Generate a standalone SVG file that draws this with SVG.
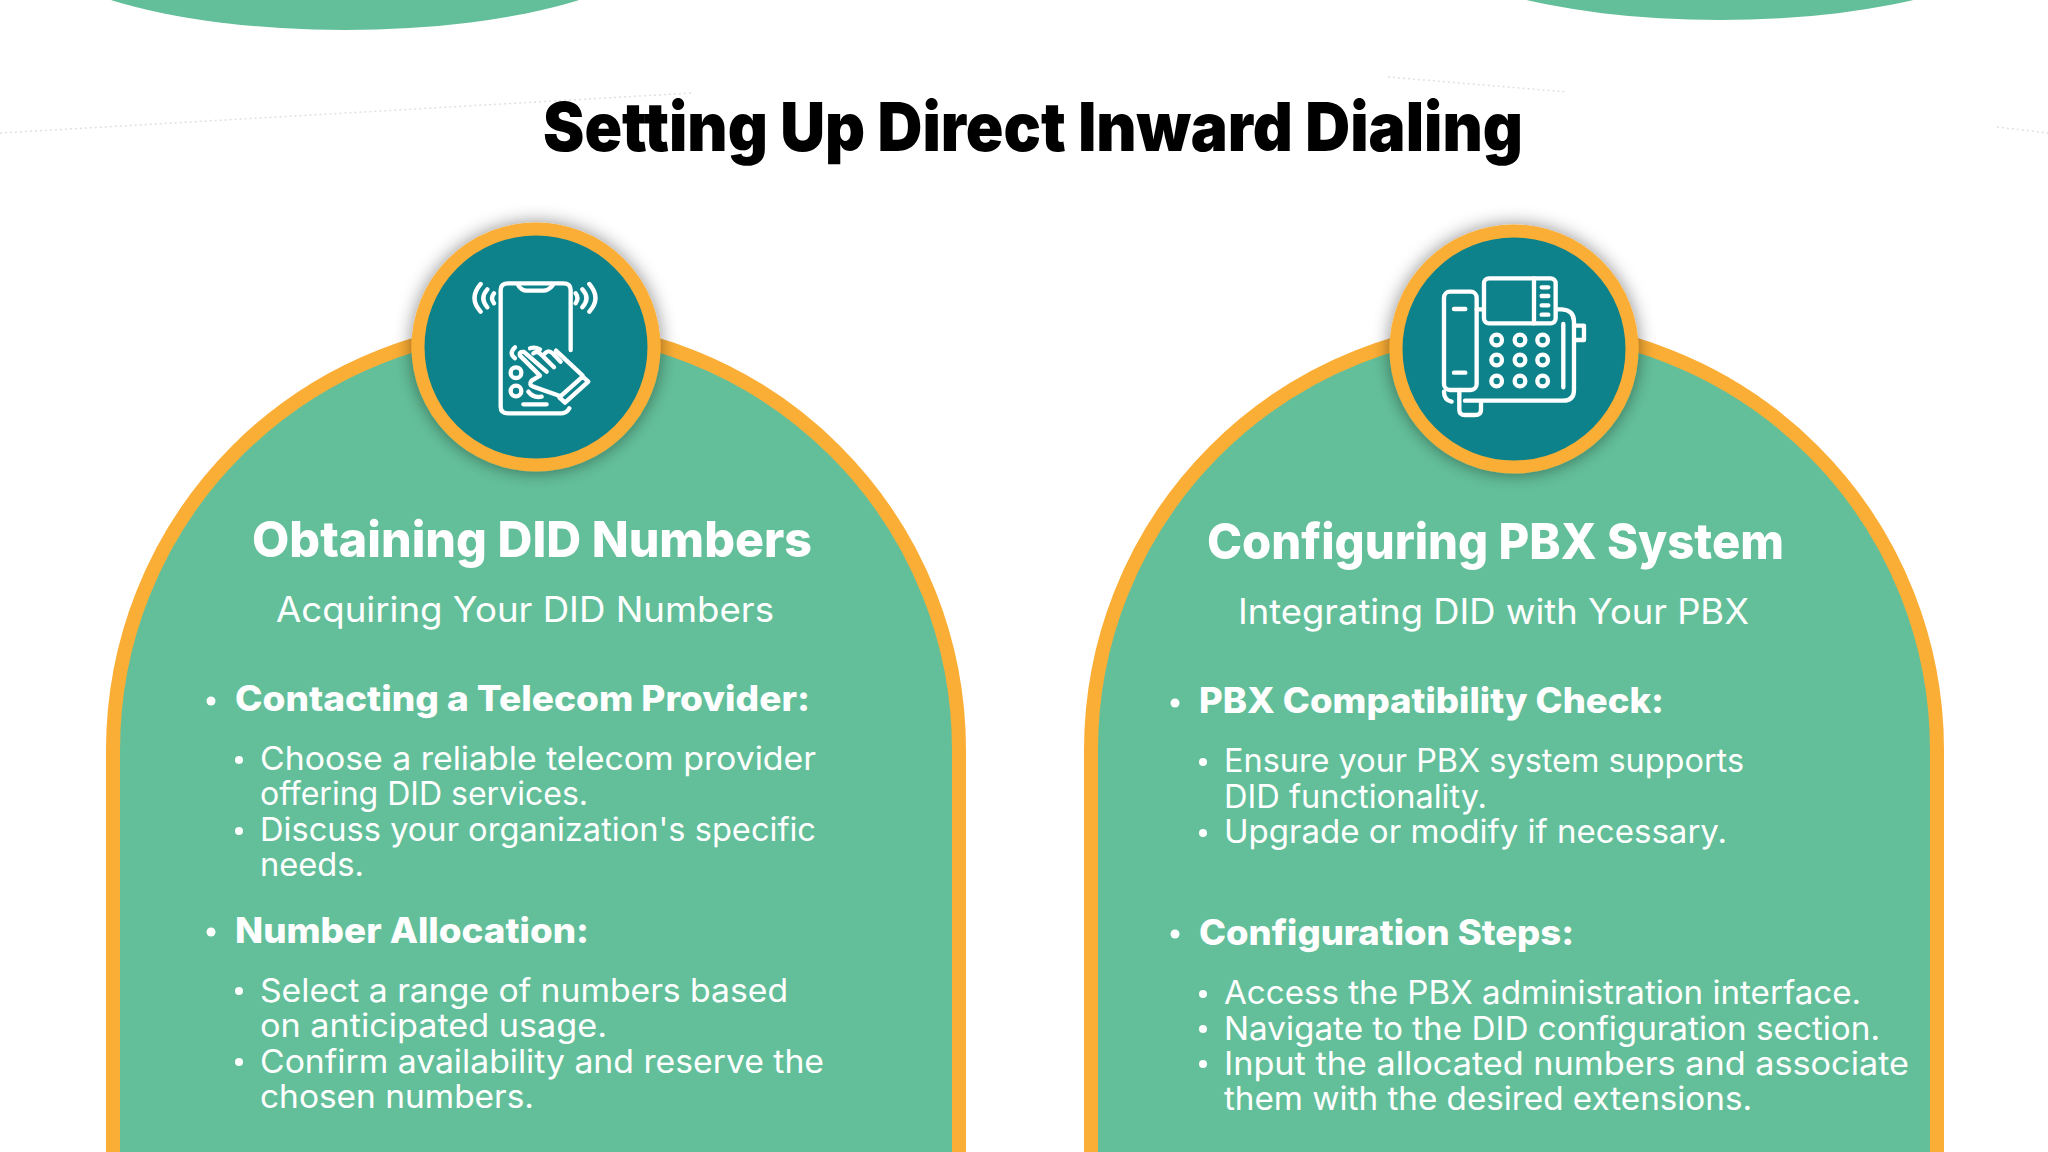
<svg xmlns="http://www.w3.org/2000/svg" width="2048" height="1152" viewBox="0 0 2048 1152">
<style>
text{font-family:Inter,"Noto Sans","Liberation Sans",sans-serif;fill:#fff}
.title{font-size:67px;font-weight:900;fill:#000}
.h{font-size:50px;font-weight:800}
.s{font-size:35px;font-weight:400}
.b{font-size:35px;font-weight:800}
.t{font-size:32px;font-weight:400}
.arch{fill:#63bf9a;stroke:#fbae35;stroke-width:14}
.blob{fill:#63bf9a}
.disc{fill:#11828a;stroke:#fbae35;stroke-width:13;filter:url(#sh)}
.ic{fill:none;stroke:#fff;stroke-width:13;stroke-linecap:round;stroke-linejoin:round}
.dot{stroke:#e0e0e0;stroke-width:1.5;stroke-dasharray:2 3;fill:none}
</style>
<defs>
<filter id="sh" x="-30%" y="-30%" width="160%" height="160%"><feDropShadow dx="0" dy="0" stdDeviation="9" flood-color="#000" flood-opacity=".45"/></filter>
</defs>
<rect width="2048" height="1152" fill="#fff"/>
<ellipse class="blob" cx="345" cy="-70" rx="328" ry="100"/>
<ellipse class="blob" cx="1720" cy="-70" rx="308" ry="90"/>
<path class="dot" d="M0 133L692 93M1388 77L1567 92M1997 127L2048 133"/>
<text class="title" x="543" y="151" textLength="980" lengthAdjust="spacingAndGlyphs">Setting Up Direct Inward Dialing</text>

<g id="card-did">
<path class="arch" d="M113 1170V750A423 423 0 0 1 959 750V1170"/>
<circle class="disc" cx="536" cy="347" r="118"/>
<g class="ic" transform="translate(400 210) scale(.3333)">
<path d="M512 420V240Q512 220 490 220H325Q302 220 302 240V590Q302 610 325 610H485Q500 610 508 595"/>
<path d="M355 226Q365 242 380 242H430Q445 242 458 226M370 583H440"/>
<circle cx="348" cy="488" r="16"/><circle cx="348" cy="543" r="16"/>
<path d="M242 222Q205 265 242 305M262 238Q238 265 262 292M282 250Q270 265 282 280M568 222Q605 265 568 305M547 238Q572 265 547 292M527 250Q538 265 527 280"/>
<path d="M345 445Q325 430 345 412M390 415Q405 410 420 418M385 545Q400 565 425 560"/>
<path d="M360 437Q356 424 372 426L440 485M360 437L420 497L395 512Q385 525 400 530L480 558M400 430Q412 420 425 435L462 472M435 430Q445 418 458 430L482 455M468 422L548 497M478 562L548 500L565 515L495 578Z"/>
</g>
<text class="h" x="252" y="557" textLength="560" lengthAdjust="spacingAndGlyphs">Obtaining DID Numbers</text>
<text class="s" x="276" y="622" textLength="498" lengthAdjust="spacingAndGlyphs">Acquiring Your DID Numbers</text>
<circle cx="211" cy="701" r="4.5" fill="#fff"/>
<text class="b" x="235" y="711" textLength="575" lengthAdjust="spacingAndGlyphs">Contacting a Telecom Provider:</text>
<circle cx="239" cy="760" r="4" fill="#fff"/>
<text class="t" x="260" y="770" textLength="556" lengthAdjust="spacingAndGlyphs">Choose a reliable telecom provider</text>
<text class="t" x="260" y="805" textLength="328" lengthAdjust="spacingAndGlyphs">offering DID services.</text>
<circle cx="239" cy="831" r="4" fill="#fff"/>
<text class="t" x="260" y="841" textLength="556" lengthAdjust="spacingAndGlyphs">Discuss your organization's specific</text>
<text class="t" x="260" y="876" textLength="104" lengthAdjust="spacingAndGlyphs">needs.</text>
<circle cx="211" cy="932" r="4.5" fill="#fff"/>
<text class="b" x="235" y="943" textLength="354" lengthAdjust="spacingAndGlyphs">Number Allocation:</text>
<circle cx="239" cy="991" r="4" fill="#fff"/>
<text class="t" x="260" y="1002" textLength="528" lengthAdjust="spacingAndGlyphs">Select a range of numbers based</text>
<text class="t" x="260" y="1037" textLength="347" lengthAdjust="spacingAndGlyphs">on anticipated usage.</text>
<circle cx="239" cy="1062" r="4" fill="#fff"/>
<text class="t" x="260" y="1073" textLength="564" lengthAdjust="spacingAndGlyphs">Confirm availability and reserve the</text>
<text class="t" x="260" y="1108" textLength="274" lengthAdjust="spacingAndGlyphs">chosen numbers.</text>
</g>

<g id="card-pbx">
<path class="arch" d="M1091 1170V750A423 423 0 0 1 1937 750V1170"/>
<circle class="disc" cx="1514" cy="349" r="118"/>
<g class="ic" transform="translate(1380 210) scale(.3333)">
<rect x="192" y="245" width="98" height="295" rx="18"/>
<path d="M222 297H256M222 488H256"/>
<rect x="312" y="205" width="215" height="135" rx="15"/>
<path d="M462 205V340M485 232H505M485 258H505M485 286H505M485 314H505"/>
<path d="M530 298H545Q582 300 582 335V540Q582 572 550 572H255M550 342V532M585 347H612V390H585M290 298H312"/>
<circle cx="350" cy="390" r="16"/><circle cx="420" cy="390" r="16"/><circle cx="488" cy="390" r="16"/>
<circle cx="350" cy="450" r="16"/><circle cx="420" cy="450" r="16"/><circle cx="488" cy="450" r="16"/>
<circle cx="350" cy="513" r="16"/><circle cx="420" cy="513" r="16"/><circle cx="488" cy="513" r="16"/>
<path d="M192 545Q192 570 215 575M238 540V600Q238 615 255 615H285Q303 615 303 600V575"/>
</g>
<text class="h" x="1207" y="559" textLength="577" lengthAdjust="spacingAndGlyphs">Configuring PBX System</text>
<text class="s" x="1238" y="624" textLength="511" lengthAdjust="spacingAndGlyphs">Integrating DID with Your PBX</text>
<circle cx="1175" cy="703" r="4.5" fill="#fff"/>
<text class="b" x="1199" y="713" textLength="465" lengthAdjust="spacingAndGlyphs">PBX Compatibility Check:</text>
<circle cx="1203" cy="762" r="4" fill="#fff"/>
<text class="t" x="1224" y="772" textLength="520" lengthAdjust="spacingAndGlyphs">Ensure your PBX system supports</text>
<text class="t" x="1224" y="808" textLength="263" lengthAdjust="spacingAndGlyphs">DID functionality.</text>
<circle cx="1203" cy="833" r="4" fill="#fff"/>
<text class="t" x="1224" y="843" textLength="503" lengthAdjust="spacingAndGlyphs">Upgrade or modify if necessary.</text>
<circle cx="1175" cy="934" r="4.5" fill="#fff"/>
<text class="b" x="1199" y="945" textLength="375" lengthAdjust="spacingAndGlyphs">Configuration Steps:</text>
<circle cx="1203" cy="994" r="4" fill="#fff"/>
<text class="t" x="1224" y="1004" textLength="637" lengthAdjust="spacingAndGlyphs">Access the PBX administration interface.</text>
<circle cx="1203" cy="1029" r="4" fill="#fff"/>
<text class="t" x="1224" y="1040" textLength="656" lengthAdjust="spacingAndGlyphs">Navigate to the DID configuration section.</text>
<circle cx="1203" cy="1064" r="4" fill="#fff"/>
<text class="t" x="1224" y="1075" textLength="685" lengthAdjust="spacingAndGlyphs">Input the allocated numbers and associate</text>
<text class="t" x="1224" y="1110" textLength="528" lengthAdjust="spacingAndGlyphs">them with the desired extensions.</text>
</g>
</svg>
